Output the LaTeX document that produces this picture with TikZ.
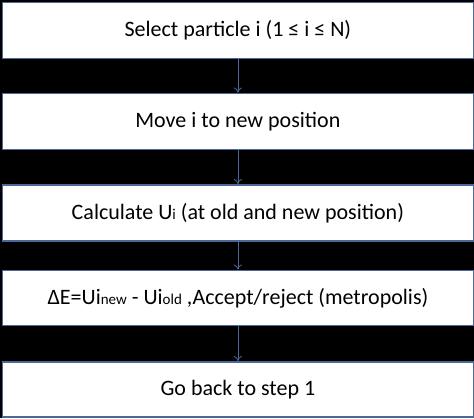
\documentclass[tikz,border=0pt]{standalone}
\usepackage{fontspec}
\setmainfont{Carlito}
\usetikzlibrary{arrows.meta}
\definecolor{edgeblue}{RGB}{74,104,152}
\tikzset{
  x=1pt,y=-1pt,
  stepbox/.style={draw=edgeblue,line width=1.8pt,fill=white,minimum width=471pt,anchor=north west,inner sep=0pt,font=\fontsize{22}{26}\selectfont,text=black},
  flow/.style={draw=edgeblue,line width=0.8pt,-{To[length=5pt,width=8pt]}}
}
\newcommand{\sm}[1]{{\fontsize{15}{17}\selectfont #1}}
\begin{document}
\begin{tikzpicture}
\fill[black] (0,0) rectangle (474,418);
\useasboundingbox (0,0) rectangle (474,418);
\node[stepbox,minimum height=56pt] (s1) at (1.5,1.5) {Select particle i (1 ≤ i ≤ N)};
\node[stepbox,minimum height=56pt] (s2) at (1.5,92.5) {Move i to new position};
\node[stepbox,minimum height=56pt] (s3) at (1.5,184) {Calculate U\sm{i} (at old and new position)};
\node[stepbox,minimum height=55pt] (s4) at (1.5,269.5) {ΔE=Ui\sm{new} - Ui\sm{old} ,Accept/reject (metropolis)};
\node[stepbox,minimum height=55pt] (s5) at (1.5,361) {Go back to step 1};
\draw[flow] (s1.south) -- (s2.north);
\draw[flow] (s2.south) -- (s3.north);
\draw[flow] (s3.south) -- (s4.north);
\draw[flow] (s4.south) -- (s5.north);
\end{tikzpicture}
\end{document}
